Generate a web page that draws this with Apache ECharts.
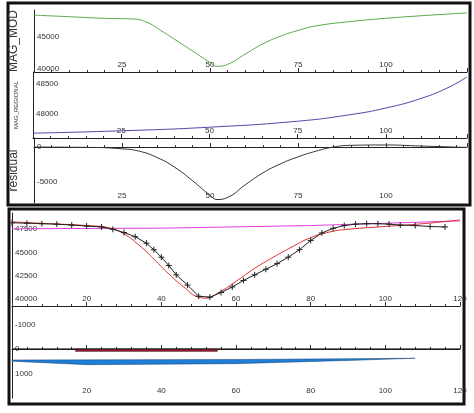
<!DOCTYPE html>
<html>
<head>
<meta charset="utf-8" />
<script src="https://cdn.jsdelivr.net/npm/echarts@6/dist/echarts.min.js"></script>
<style>html,body{margin:0;background:#fff}</style>
</head>
<body>
<div id="divChart" style="width:474px;height:413px;"></div>
<script>
// top profile (distance, value)
let magModX = [0, 10, 20, 28, 32, 36, 40, 45, 50, 52, 55, 60, 65, 70, 75, 80, 90, 100, 110, 123];
let magMod = [48400, 48150, 47900, 47800, 47300, 46000, 44600, 42800, 41000, 40400, 40700, 42300, 43900, 45100, 46000, 46700, 47400, 47900, 48300, 48750];
let regX = [0, 25, 50, 75, 90, 100, 110, 118, 123];
let regVal = [47680, 47720, 47780, 47880, 47990, 48100, 48260, 48450, 48620];
let resX = [0, 15, 25, 30, 35, 40, 45, 50, 52, 55, 60, 65, 70, 75, 80, 85, 90, 100, 110, 123];
let resVal = [0, -40, -250, -600, -1500, -2900, -4800, -6900, -7500, -7200, -5400, -3700, -2400, -1400, -600, 0, 250, 300, 150, -50];
// lower model window
let obsX = [0, 4, 8, 12, 16, 20, 24, 27, 30, 33, 36, 38, 40, 42, 44, 47, 50, 53, 56, 59, 62, 65, 68, 71, 74, 77, 80, 83, 86, 89, 92, 95, 98, 101, 104, 108, 112, 116];
let obsVal = [48200, 48150, 48100, 48050, 47950, 47850, 47750, 47500, 47150, 46700, 46000, 45300, 44500, 43600, 42600, 41500, 40300, 40200, 40700, 41300, 42000, 42600, 43200, 43800, 44500, 45300, 46300, 47100, 47600, 47900, 48050, 48100, 48100, 48050, 47950, 47900, 47800, 47750];
let calcX = [0, 10, 20, 26, 30, 34, 38, 42, 46, 50, 52, 55, 60, 65, 70, 75, 80, 85, 90, 100, 110, 120];
let calcVal = [48300, 48100, 47900, 47650, 47000, 45800, 44300, 42700, 41300, 40200, 40100, 40600, 41900, 43300, 44500, 45600, 46600, 47200, 47500, 47800, 48100, 48500];
let regLineX = [0, 40, 80, 120];
let regLineVal = [47550, 47620, 47900, 48400];
// bodies (x, depth)
let redBody = [[17, 0], [55, 0], [55, 100], [17, 100]];
let blueBody = [[0, 450], [60, 430], [108, 380], [90, 470], [60, 600], [20, 640], [0, 500]];
let surfX = [0, 120];
let surfVal = [0, 0];

function pairs(xs, ys) { return xs.map((x, i) => [x, ys[i]]); }

let tick = { show: true, inside: true, length: 4, lineStyle: { color: '#333' } };
let minor = { show: true, splitNumber: 5, length: 2, lineStyle: { color: '#333' } };
let lab = { inside: true, fontSize: 8, color: '#333', margin: 3 };
function xAx(grid, max, interval) {
    return { type: 'value', gridIndex: grid, min: 0, max: max, interval: interval, axisLine: { lineStyle: { color: '#222' } },
        axisTick: tick, minorTick: minor, axisLabel: Object.assign({}, lab, { showMinLabel: false, showMaxLabel: grid > 2 }), splitLine: { show: false } };
}
function yAx(grid, min, max, interval, every, name, inverse) {
    return { type: 'value', gridIndex: grid, min: min, max: max, interval: interval, inverse: !!inverse,
        name: name, nameLocation: 'middle', nameGap: 14, nameRotate: 90, nameTextStyle: { fontSize: name && name.length > 8 ? 6 : 12, color: '#333' },
        axisLine: { show: true, lineStyle: { color: '#222' } }, axisTick: { show: false }, minorTick: { show: false },
        axisLabel: Object.assign({}, lab, { showMinLabel: false, showMaxLabel: false,
            formatter: v => (Math.abs(v % every) < 1e-6 ? String(v) : '') }), splitLine: { show: false } };
}
function poly(grid, pts, color) {
    return { type: 'custom', xAxisIndex: grid, yAxisIndex: grid, data: [0], silent: true,
        renderItem: function (p, api) {
            return { type: 'polygon', shape: { points: pts.map(q => api.coord(q)) }, style: { fill: color, stroke: '#1a3a6a', lineWidth: 0.5 } };
        } };
}
function ln(grid, data, color, extra) {
    return Object.assign({ type: 'line', xAxisIndex: grid, yAxisIndex: grid, data: data, showSymbol: false, smooth: true,
        lineStyle: { color: color, width: 1 }, itemStyle: { color: color } }, extra || {});
}

let option = {
    backgroundColor: '#fff',
    animation: false,
    grid: [
        { left: 33, right: 7, top: 10, height: 62 },
        { left: 33, right: 7, top: 72, height: 66 },
        { left: 33, right: 7, top: 138, height: 65 },
        { left: 12, right: 14, top: 213, height: 93 },
        { left: 12, right: 14, top: 306, height: 92 }
    ],
    xAxis: [xAx(0, 123, 25), xAx(1, 123, 25), xAx(2, 123, 25), xAx(3, 120, 20), xAx(4, 120, 20)],
    yAxis: [
        yAx(0, 39500, 49200, 500, 5000, 'MAG_MOD'),
        yAx(1, 47600, 48700, 100, 500, 'MAG_REGIONAL'),
        yAx(2, -8000, 1300, 1000, 5000, 'residual'),
        yAx(3, 39250, 49250, 250, 2500, ''),
        yAx(4, -1750, 2000, 250, 1000, '', true)
    ],
    graphic: [
        { type: 'rect', shape: { x: 8, y: 3, width: 462, height: 202 }, style: { fill: 'none', stroke: '#111', lineWidth: 3 } },
        { type: 'rect', shape: { x: 9, y: 209, width: 455, height: 195 }, style: { fill: 'none', stroke: '#111', lineWidth: 3 } }
    ],
    series: [
        ln(0, pairs(magModX, magMod), '#5aa84a'),
        ln(1, pairs(regX, regVal), '#4a4aa8'),
        ln(2, pairs(resX, resVal), '#333'),
        ln(3, pairs(regLineX, regLineVal), '#e040e0', { smooth: false }),
        ln(3, pairs(calcX, calcVal), '#e03030'),
        ln(3, pairs(obsX, obsVal), '#222', { showSymbol: true, symbol: 'path://M0,5L10,5M5,0L5,10', symbolSize: 6, smooth: false,
            itemStyle: { color: 'none', borderColor: '#222', borderWidth: 1 } }),
        ln(4, pairs(surfX, surfVal), '#111', { smooth: false }),
        poly(4, blueBody, '#1e7fd8'),
        poly(4, redBody, '#b01818')
    ]
};
echarts.init(document.getElementById('divChart')).setOption(option);
</script>
</body>
</html>
